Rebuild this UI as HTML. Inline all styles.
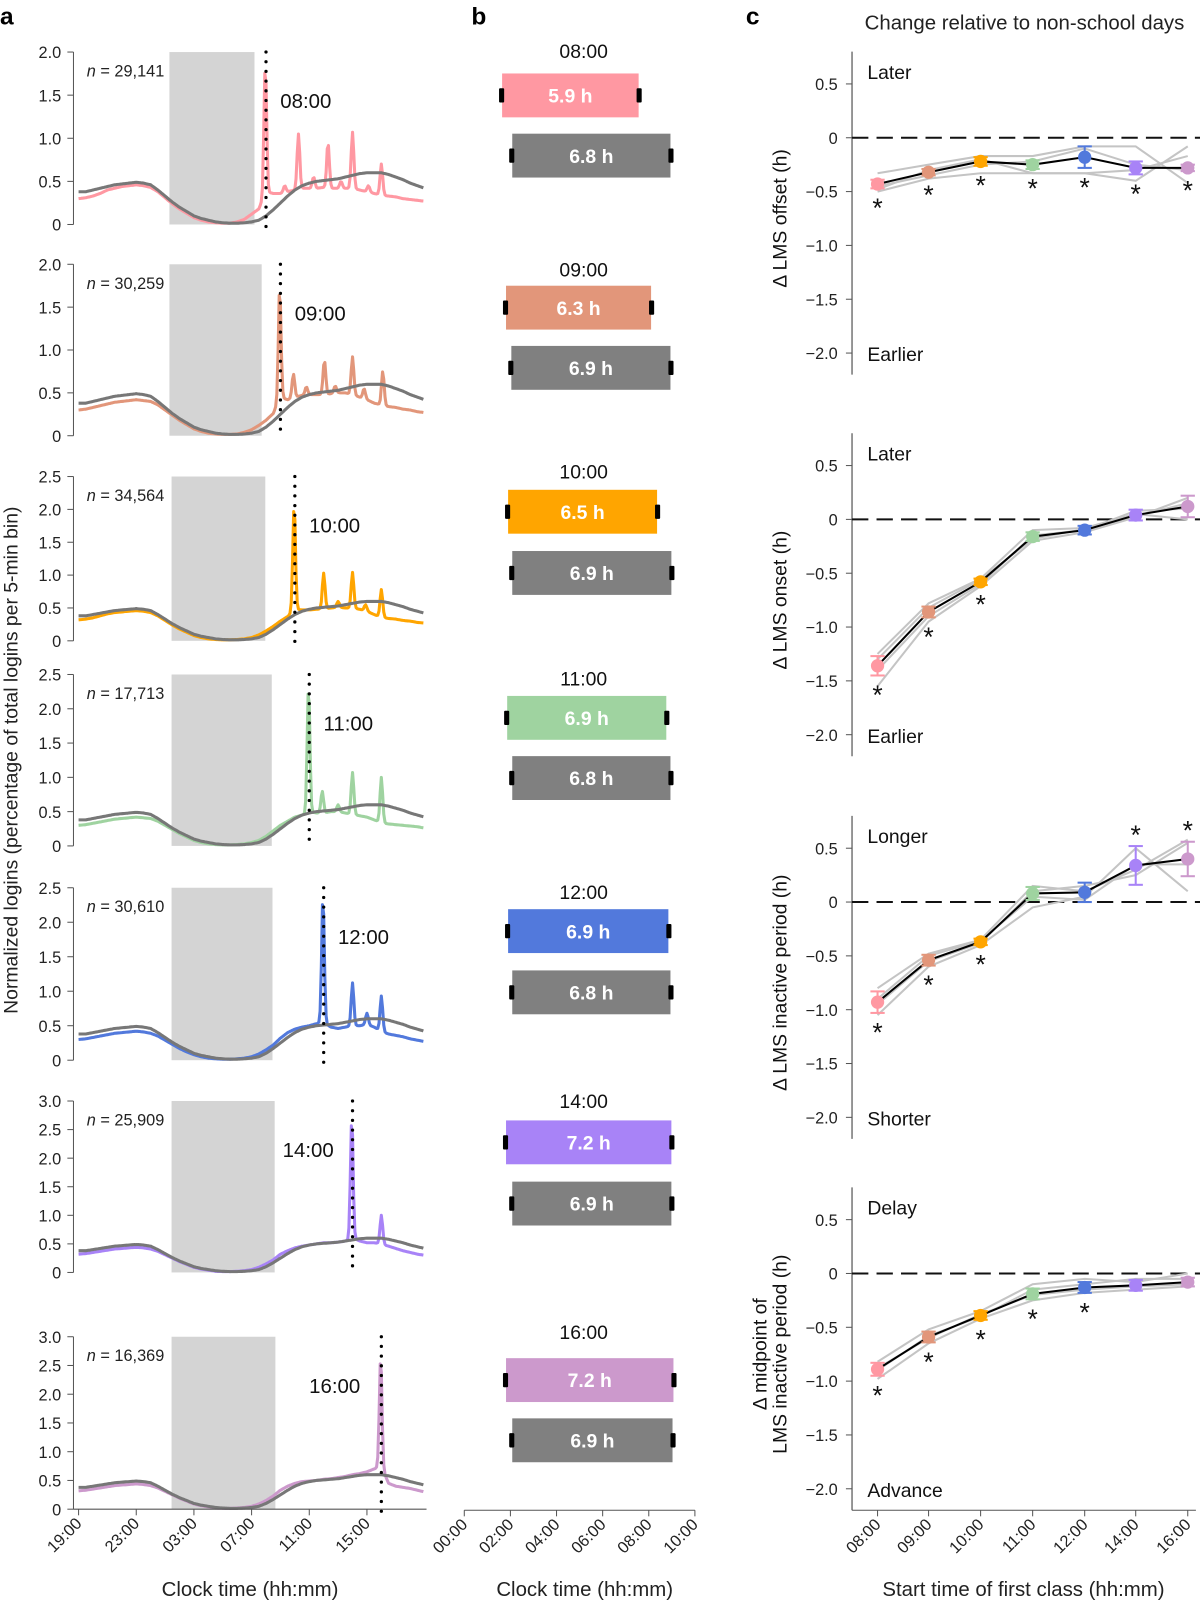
<!DOCTYPE html>
<html><head><meta charset="utf-8"><style>
body{margin:0;background:#fff}
svg{display:block;font-family:"Liberation Sans",sans-serif}
</style></head><body>
<svg id="fig" width="1200" height="1600" viewBox="0 0 1176 1568" preserveAspectRatio="none" xmlns="http://www.w3.org/2000/svg">
<text x="0" y="24" font-size="24" font-weight="bold">a</text>
<text x="462" y="24" font-size="24" font-weight="bold">b</text>
<text x="731" y="24" font-size="24" font-weight="bold">c</text>
<text x="1004" y="29" font-size="20" text-anchor="middle" fill="#222">Change relative to non-school days</text>
<text transform="translate(17,745) rotate(-90)" font-size="19" text-anchor="middle" fill="#222">Normalized logins (percentage of total logins per 5-min bin)</text>
<text x="245" y="1564" font-size="20" text-anchor="middle" fill="#222">Clock time (hh:mm)</text>
<text x="573" y="1564" font-size="20" text-anchor="middle" fill="#222">Clock time (hh:mm)</text>
<text x="1003" y="1564" font-size="20" text-anchor="middle" fill="#222">Start time of first class (hh:mm)</text>
</svg>
<script>
// ---------- Panel a data ----------
const classLabels = ['08:00','09:00','10:00','11:00','12:00','14:00','16:00'];
const classHour = [13,14,15,16,17,19,21]; // hours after 19:00
const nValues = ['29,141','30,259','34,564','17,713','30,610','25,909','16,369'];
const yMaxA = [2,2,2.5,2.5,2.5,3,3];
const sleepStart = [6.3,6.3,6.45,6.45,6.45,6.45,6.45];
const sleepEnd = [12.2,12.7,12.95,13.4,13.45,13.6,13.65];
const xTickHoursA = [0,4,8,12,16,20];
const xTickLabelsA = ['19:00','23:00','03:00','07:00','11:00','15:00'];
const nonSchool = [0.38,0.38,0.40,0.42,0.44,0.46,0.47,0.48,0.49,0.48,0.46,0.40,
 0.33,0.26,0.20,0.15,0.10,0.07,0.05,0.03,0.02,0.015,0.015,0.02,
 0.03,0.05,0.10,0.17,0.25,0.33,0.40,0.45,0.48,0.50,0.51,0.52,0.53,0.55,0.57,0.59,0.60,0.60,0.60,0.58,0.55,0.52,0.48,0.45,
 0.42];
const base08 = [0.30,0.31,0.33,0.36,0.40,0.42,0.44,0.45,0.46,0.45,0.43,0.38,
 0.31,0.24,0.18,0.13,0.08,0.05,0.03,0.02,0.015,0.015,0.03,0.06,
 0.12,0.18,0.38,0.36,0.36,0.38,0.40,0.42,0.42,0.42,0.43,0.42,0.42,0.42,0.42,0.40,0.38,0.36,0.34,0.33,0.32,0.30,0.29,0.28,
 0.27];
const base09 = [0.30,0.31,0.33,0.35,0.37,0.39,0.40,0.41,0.42,0.41,0.40,0.36,
 0.30,0.24,0.18,0.13,0.08,0.05,0.03,0.02,0.015,0.015,0.02,0.04,
 0.07,0.12,0.18,0.26,0.45,0.42,0.45,0.47,0.48,0.48,0.48,0.49,0.50,0.50,0.48,0.45,0.42,0.38,0.36,0.34,0.33,0.31,0.30,0.28,
 0.27];
const base10 = [0.32,0.33,0.35,0.38,0.41,0.43,0.44,0.45,0.46,0.45,0.43,0.38,
 0.31,0.24,0.18,0.13,0.08,0.05,0.03,0.02,0.015,0.015,0.02,0.03,
 0.05,0.09,0.15,0.22,0.30,0.37,0.48,0.47,0.47,0.48,0.49,0.50,0.51,0.50,0.50,0.48,0.45,0.40,0.36,0.34,0.33,0.31,0.30,0.28,
 0.27];
const base11 = [0.30,0.31,0.33,0.35,0.37,0.39,0.40,0.41,0.42,0.41,0.40,0.36,
 0.30,0.24,0.18,0.13,0.08,0.05,0.03,0.02,0.015,0.015,0.02,0.03,
 0.05,0.08,0.14,0.22,0.30,0.36,0.42,0.45,0.50,0.48,0.48,0.50,0.50,0.48,0.46,0.44,0.42,0.38,0.34,0.32,0.31,0.30,0.29,0.28,
 0.26];
const base12 = [0.30,0.31,0.33,0.35,0.37,0.39,0.40,0.41,0.42,0.41,0.39,0.35,
 0.29,0.23,0.17,0.12,0.08,0.05,0.03,0.02,0.015,0.015,0.02,0.03,
 0.05,0.09,0.15,0.22,0.32,0.40,0.45,0.48,0.50,0.53,0.55,0.48,0.46,0.48,0.50,0.50,0.52,0.48,0.42,0.38,0.36,0.34,0.31,0.29,
 0.27];
const base14 = [0.32,0.33,0.35,0.37,0.39,0.41,0.42,0.43,0.44,0.43,0.41,0.37,
 0.31,0.25,0.19,0.14,0.09,0.06,0.04,0.02,0.015,0.015,0.02,0.03,
 0.05,0.09,0.15,0.22,0.32,0.38,0.43,0.46,0.48,0.50,0.52,0.52,0.53,0.55,0.60,0.55,0.52,0.52,0.50,0.46,0.42,0.38,0.35,0.32,
 0.30];
const base16 = [0.32,0.33,0.35,0.37,0.39,0.41,0.42,0.43,0.44,0.43,0.41,0.37,
 0.31,0.25,0.19,0.14,0.09,0.06,0.04,0.02,0.015,0.015,0.02,0.03,
 0.05,0.09,0.15,0.23,0.33,0.40,0.45,0.48,0.49,0.50,0.52,0.53,0.55,0.57,0.60,0.62,0.65,0.70,0.75,0.45,0.40,0.38,0.36,0.33,
 0.30];
const peaks08 = [[12.95,1.85],[14.3,0.45],[15.25,1.05],[16.3,0.55],[17.3,0.95],[18.2,0.5],[19.0,1.07],[20.1,0.45],[21.0,0.7]];
const peaks09 = [[13.95,1.72],[14.9,0.72],[15.8,0.57],[17.05,0.88],[17.8,0.58],[19.0,0.92],[19.8,0.55],[21.1,0.75]];
const peaks10 = [[14.95,2.07],[17.0,1.03],[18.0,0.6],[19.0,1.04],[19.9,0.55],[21.0,0.78]];
const peaks11 = [[15.95,2.33],[16.9,0.8],[18.0,0.6],[19.0,1.07],[21.0,1.0]];
const peaks12 = [[16.95,2.37],[19.0,1.12],[20.0,0.68],[21.0,0.93]];
const peaks14 = [[18.95,2.7],[21.0,1.0]];
const peaks16 = [[20.95,2.65]];
const schoolBases = [base08,base09,base10,base11,base12,base14,base16];
const schoolPeaks = [peaks08,peaks09,peaks10,peaks11,peaks12,peaks14,peaks16];

// ---------- Panel b data ----------
const schoolStart = [1.64,1.81,1.9,1.86,1.9,1.81,1.81];
const schoolEnd = [7.56,8.1,8.36,8.76,8.85,8.98,9.07];
const schoolDur = ['5.9 h','6.3 h','6.5 h','6.9 h','6.9 h','7.2 h','7.2 h'];
const nonStart = [2.08,2.04,2.08,2.08,2.08,2.08,2.08];
const nonEnd = [8.94,8.94,8.98,8.94,8.94,8.98,9.03];
const nonDur = ['6.8 h','6.9 h','6.9 h','6.8 h','6.8 h','6.9 h','6.9 h'];
const xTickLabelsB = ['00:00','02:00','04:00','06:00','08:00','10:00'];
const xTickHoursB = [0,2,4,6,8,10];

// ---------- Panel c data ----------
const catLabels = ['08:00','09:00','10:00','11:00','12:00','14:00','16:00'];
const offsetMean = [-0.43,-0.32,-0.22,-0.25,-0.18,-0.28,-0.28];
const offsetErr = [0.04,0.03,0.04,0.04,0.1,0.06,0.03];
const onsetMean = [-1.36,-0.86,-0.58,-0.16,-0.10,0.04,0.12];
const onsetErr = [0.09,0.05,0.03,0.04,0.04,0.05,0.1];
const inactiveMean = [-0.93,-0.54,-0.37,0.08,0.09,0.34,0.40];
const inactiveErr = [0.1,0.05,0.03,0.06,0.09,0.18,0.16];
const midMean = [-0.89,-0.59,-0.39,-0.19,-0.13,-0.11,-0.08];
const midErr = [0.06,0.05,0.04,0.05,0.05,0.05,0.04];
const offsetInd1 = [-0.33,-0.25,-0.17,-0.17,-0.08,-0.08,-0.42];
const offsetInd2 = [-0.48,-0.30,-0.20,-0.33,-0.33,-0.40,-0.08];
const offsetInd3 = [-0.50,-0.38,-0.33,-0.33,-0.33,-0.30,-0.17];
const offsetInd4 = [-0.45,-0.35,-0.25,-0.22,-0.10,-0.25,-0.30];
const onsetInd1 = [-1.25,-0.78,-0.55,-0.10,-0.08,0.05,0.00];
const onsetInd2 = [-1.55,-0.95,-0.62,-0.20,-0.12,0.02,0.20];
const onsetInd3 = [-1.40,-0.90,-0.60,-0.15,-0.10,0.08,0.10];
const onsetInd4 = [-1.30,-0.82,-0.56,-0.18,-0.09,0.03,0.15];
const inactInd1 = [-0.80,-0.48,-0.35,0.15,0.10,0.30,0.58];
const inactInd2 = [-1.05,-0.60,-0.40,-0.05,0.05,0.50,0.10];
const inactInd3 = [-0.95,-0.55,-0.38,0.10,0.15,0.25,0.55];
const inactInd4 = [-0.90,-0.50,-0.36,0.05,0.02,0.35,0.35];
const midInd1 = [-0.82,-0.52,-0.35,-0.10,-0.05,-0.08,0.00];
const midInd2 = [-0.98,-0.65,-0.42,-0.25,-0.18,-0.15,-0.12];
const midInd3 = [-0.90,-0.58,-0.40,-0.15,-0.10,-0.05,-0.05];
const midInd4 = [-0.88,-0.60,-0.38,-0.20,-0.15,-0.12,-0.10];
const offsetSig = ['below','below','below','below','below','below','below'];
const onsetSig = ['below','below','below','','','',''];
const inactSig = ['below','below','below','','','above','above'];
const midSig = ['below','below','below','below','below','',''];
const yTicksC = [0.5,0,-0.5,-1.0,-1.5,-2.0];

// ---------- styles / layout ----------
const colors = ['#ff98a2','#e2967a','#ffa500','#9fd3a0','#5279dc','#a883f7','#cc99cc'];
const NS = 'http://www.w3.org/2000/svg';
const svg = document.getElementById('fig');
function mk(tag, attrs, parent){
  const e = document.createElementNS(NS, tag);
  for (const k in attrs) e.setAttribute(k, attrs[k]);
  (parent||svg).appendChild(e);
  return e;
}
function fmt(v){ if (v===0) return '0'; const s=Math.abs(v).toFixed(1); return (v<0?'\u2212':'')+s; }

// ---- panel a ----
const aTop = [51,259,467,661,870,1079,1310];
const aZero = [220,427,628,829,1039,1247,1479];
const AX0 = 77, APH = 14.13, AXIS_X = 72;
const ax = h => AX0 + h*APH;
function interp(arr, h){ const p=h*2; const i=Math.min(Math.floor(p),arr.length-2); const f=p-i; return arr[i]*(1-f)+arr[i+1]*f; }
for (let p=0;p<7;p++){
  const g = mk('g',{});
  
  
  const ay = v => aZero[p] - v/yMaxA[p]*(aZero[p]-aTop[p]);
  const box = mk('rect',{x:ax(sleepStart[p]),y:aTop[p],width:ax(sleepEnd[p])-ax(sleepStart[p]),height:aZero[p]-aTop[p],fill:'#d4d4d4'},g);
  
  
  mk('line',{x1:AXIS_X,y1:aTop[p],x2:AXIS_X,y2:aZero[p],stroke:'#555','stroke-width':1},g);
  for (let v=0; v<=yMaxA[p]+1e-9; v+=0.5){
    mk('line',{x1:AXIS_X-6,y1:ay(v),x2:AXIS_X,y2:ay(v),stroke:'#555'},g);
    const t = mk('text',{x:AXIS_X-12,y:ay(v)+6,'font-size':16,'text-anchor':'end',fill:'#222'},g);
    t.textContent = v===0?'0':v.toFixed(1);
    
    
  }
  let dS='', dN='';
  const peaks = schoolPeaks[p], base = schoolBases[p];
  for (let k=0;k<=287;k++){
    const h = k/12;
    let v = interp(base,h);
    for (const pk of peaks){ const s = v + (pk[1]-v)*Math.exp(-Math.pow((h-pk[0])/0.13,2)); if (s>v) v=s; }
    dS += (k?'L':'M')+ax(h).toFixed(1)+','+ay(v).toFixed(1);
    dN += (k?'L':'M')+ax(h).toFixed(1)+','+ay(interp(nonSchool,h)).toFixed(1);
  }
  const ls = mk('path',{d:dS,fill:'none',stroke:colors[p],'stroke-width':3,'stroke-linejoin':'round'},g);
  
  
  const ln = mk('path',{d:dN,fill:'none',stroke:'#777','stroke-width':3,'stroke-linejoin':'round'},g);
  
  
  const cx = ax(classHour[p]);
  for (let y=aTop[p]; y<=aZero[p]+2; y+=9.5){ mk('circle',{cx:cx,cy:y,r:1.6,fill:'#000'},g); }
  const nt = mk('text',{x:85,y:aTop[p]+24,'font-size':16,fill:'#222'},g);
  nt.innerHTML = '<tspan font-style="italic">n</tspan> = '+nValues[p];
  
  
  const lx = p===5 ? 277 : (p===6 ? 303 : cx+14);
  const ct = mk('text',{x:lx,y:aTop[p]+55,'font-size':20,fill:'#111'},g);
  ct.textContent = classLabels[p];
  
  
}
mk('line',{x1:AXIS_X,y1:1479,x2:418,y2:1479,stroke:'#555'});
xTickHoursA.forEach((h,i)=>{
  mk('line',{x1:ax(h),y1:1479,x2:ax(h),y2:1485,stroke:'#555'});
  const t = mk('text',{transform:`translate(${ax(h)+4},${1494}) rotate(-45)`,'font-size':16,'text-anchor':'end',fill:'#222'});
  t.textContent = xTickLabelsA[i];
  
  
});

// ---- panel b ----
const BX0 = 455, BPH = 22.6;
const bx = h => BX0 + h*BPH;
const labelY = [50,264,462,665,874,1079,1305];
const colY = [72,280,480,682,891,1098,1331];
const grayY = [131,339,540,741,951,1158,1390];
const BH = 43;
function bar(x1,x2,y,fill,label,name){
  const r = mk('rect',{x:x1,y:y,width:x2-x1,height:BH,fill:fill});
  
  
  mk('rect',{x:x1-3,y:y+BH/2-7,width:5,height:14,fill:'#000',rx:1});
  mk('rect',{x:x2-2,y:y+BH/2-7,width:5,height:14,fill:'#000',rx:1});
  const t = mk('text',{x:(x1+x2)/2,y:y+BH/2+7,'font-size':19,'font-weight':'bold','text-anchor':'middle',fill:'#fff'});
  t.textContent = label;
  
  
}
for (let p=0;p<7;p++){
  const t = mk('text',{x:572,y:labelY[p]+7,'font-size':19,'text-anchor':'middle',fill:'#111'});
  t.textContent = classLabels[p];
  
  
  bar(bx(schoolStart[p]),bx(schoolEnd[p]),colY[p],colors[p],schoolDur[p],'school-day-bar');
  bar(bx(nonStart[p]),bx(nonEnd[p]),grayY[p],'#808080',nonDur[p],'non-school-day-bar');
}
mk('line',{x1:bx(0),y1:1480,x2:bx(10),y2:1480,stroke:'#555'});
xTickHoursB.forEach((h,i)=>{
  mk('line',{x1:bx(h),y1:1480,x2:bx(h),y2:1486,stroke:'#555'});
  const t = mk('text',{transform:`translate(${bx(h)+4},${1495}) rotate(-45)`,'font-size':16,'text-anchor':'end',fill:'#222'});
  t.textContent = xTickLabelsB[i];
  
  
});

// ---- panel c ----
const CX = [860,910,961,1012,1063,1113,1164];
const cZero = [135,509,884,1248];
const CPU = 105.5, CAXIS = 835;
const charts = [
  {mean:offsetMean,err:offsetErr,ind:[offsetInd1,offsetInd2,offsetInd3,offsetInd4],sig:offsetSig,title:['Δ LMS offset (h)'],hi:'Later',lo:'Earlier',name:'offset-chart'},
  {mean:onsetMean,err:onsetErr,ind:[onsetInd1,onsetInd2,onsetInd3,onsetInd4],sig:onsetSig,title:['Δ LMS onset (h)'],hi:'Later',lo:'Earlier',name:'onset-chart'},
  {mean:inactiveMean,err:inactiveErr,ind:[inactInd1,inactInd2,inactInd3,inactInd4],sig:inactSig,title:['Δ LMS inactive period (h)'],hi:'Longer',lo:'Shorter',name:'inactive-period-chart'},
  {mean:midMean,err:midErr,ind:[midInd1,midInd2,midInd3,midInd4],sig:midSig,title:['Δ midpoint of','LMS inactive period (h)'],hi:'Delay',lo:'Advance',name:'midpoint-chart'}
];
charts.forEach((c,ci)=>{
  const g = mk('g',{});
  
  
  const cy = v => cZero[ci] - v*CPU;
  mk('line',{x1:CAXIS,y1:cy(0.8),x2:CAXIS,y2:cy(-2.2),stroke:'#777','stroke-width':1.5},g);
  yTicksC.forEach(v=>{
    mk('line',{x1:CAXIS-6,y1:cy(v),x2:CAXIS,y2:cy(v),stroke:'#555'},g);
    const t = mk('text',{x:CAXIS-14,y:cy(v)+6,'font-size':16,'text-anchor':'end',fill:'#222'},g);
    t.textContent = fmt(v);
    
    
  });
  mk('line',{x1:CAXIS,y1:cy(0),x2:1178,y2:cy(0),stroke:'#111','stroke-width':2,'stroke-dasharray':'16,8'},g);
  const hi = mk('text',{x:850,y:cy(0.5)-5,'font-size':19,fill:'#111'},g); hi.textContent=c.hi;
  
  
  const lo = mk('text',{x:850,y:cy(-2.0)+8,'font-size':19,fill:'#111'},g); lo.textContent=c.lo;
  
  
  const midY = cy(-0.75);
  c.title.forEach((line,li)=>{
    const xx = c.title.length===1 ? 771 : 751+li*20;
    const t = mk('text',{transform:`translate(${xx},${midY}) rotate(-90)`,'font-size':19,'text-anchor':'middle',fill:'#111'},g);
    t.textContent = line;
    
    
  });
  c.ind.forEach(arr=>{
    const d = arr.map((v,i)=>(i?'L':'M')+CX[i]+','+cy(v)).join('');
    const pl = mk('path',{d:d,fill:'none',stroke:'#c4c4c4','stroke-width':2},g);
    
    
  });
  const d = c.mean.map((v,i)=>(i?'L':'M')+CX[i]+','+cy(v)).join('');
  const ml = mk('path',{d:d,fill:'none',stroke:'#000','stroke-width':2},g);
  
  
  c.mean.forEach((v,i)=>{
    const y1 = cy(v+c.err[i]), y2 = cy(v-c.err[i]);
    mk('line',{x1:CX[i],y1:y1,x2:CX[i],y2:y2,stroke:colors[i],'stroke-width':2},g);
    mk('line',{x1:CX[i]-7,y1:y1,x2:CX[i]+7,y2:y1,stroke:colors[i],'stroke-width':2},g);
    mk('line',{x1:CX[i]-7,y1:y2,x2:CX[i]+7,y2:y2,stroke:colors[i],'stroke-width':2},g);
    const pt = mk('circle',{cx:CX[i],cy:cy(v),r:6.5,fill:colors[i]},g);
    
    
    if (c.sig[i]){
      const sy = c.sig[i]==='below' ? y2+28 : y1-2;
      const s = mk('text',{x:CX[i],y:sy,'font-size':26,'text-anchor':'middle',fill:'#111'},g);
      s.textContent = '*';
      
      
    }
  });
});
mk('line',{x1:CAXIS,y1:1480,x2:1172,y2:1480,stroke:'#555'});
CX.forEach((x,i)=>{
  mk('line',{x1:x,y1:1480,x2:x,y2:1486,stroke:'#555'});
  const t = mk('text',{transform:`translate(${x+4},${1495}) rotate(-45)`,'font-size':16,'text-anchor':'end',fill:'#222'});
  t.textContent = catLabels[i];
  
  
});
</script>
</body></html>
